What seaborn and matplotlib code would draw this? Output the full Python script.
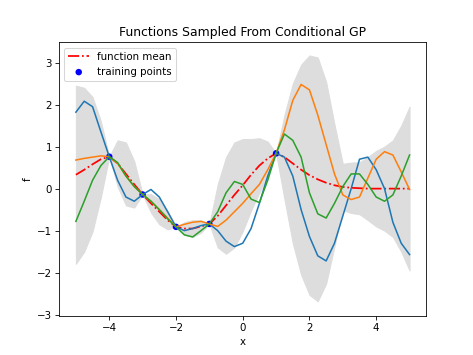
import numpy as np
import matplotlib
matplotlib.use("Agg")
import matplotlib.pyplot as plt
import seaborn as sns

# test grid
x_test = np.arange(-5, 5.01, 0.25)

# training points
x_train = [-4, -3, -2, -1, 1]
y_train = [0.76, -0.14, -0.91, -0.84, 0.84]

# posterior mean
mean = [0.33, 0.45, 0.58, 0.70, 0.76, 0.60, 0.35, 0.10, -0.14, -0.35,
        -0.55, -0.75, -0.91, -0.95, -0.95, -0.90, -0.84, -0.65, -0.40, -0.15,
        0.08, 0.33, 0.55, 0.72, 0.84, 0.75, 0.60, 0.45, 0.32, 0.22,
        0.14, 0.08, 0.04, 0.02, 0.01, 0.0, 0.0, 0.0, 0.0, 0.0, 0.0]

# half width of the shaded band (2 std)
band = [2.12, 1.95, 1.60, 0.90, 0.0, 0.55, 0.75, 0.55, 0.0, 0.22,
        0.30, 0.22, 0.0, 0.15, 0.20, 0.15, 0.0, 0.75, 1.15, 1.25,
        1.10, 0.85, 0.65, 0.40, 0.0, 1.00, 1.90, 2.50, 2.85, 2.90,
        2.40, 1.45, 0.55, 0.60, 0.62, 0.75, 0.90, 1.00, 1.15, 1.50, 1.95]

# three posterior samples
sample_1 = [1.82, 2.08, 1.95, 1.35, 0.76, 0.20, -0.20, -0.30, -0.14, -0.02,
            -0.20, -0.55, -0.91, -1.00, -0.95, -0.88, -0.84, -1.00, -1.25, -1.38,
            -1.30, -0.95, -0.35, 0.30, 0.84, 0.75, 0.30, -0.50, -1.14, -1.60,
            -1.72, -1.30, -0.65, 0.00, 0.70, 0.75, 0.45, 0.00, -0.80, -1.30, -1.57]
sample_2 = [0.68, 0.72, 0.75, 0.78, 0.76, 0.60, 0.30, 0.05, -0.14, -0.30,
            -0.50, -0.70, -0.91, -0.85, -0.80, -0.78, -0.84, -0.90, -0.75, -0.55,
            -0.35, -0.12, 0.10, 0.45, 0.84, 1.40, 2.10, 2.48, 2.35, 1.75,
            1.05, 0.35, -0.15, -0.26, -0.20, 0.25, 0.70, 0.88, 0.80, 0.40, -0.02]
sample_3 = [-0.78, -0.30, 0.20, 0.55, 0.76, 0.62, 0.30, 0.05, -0.14, -0.30,
            -0.50, -0.72, -0.91, -1.10, -1.15, -1.00, -0.84, -0.55, -0.10, 0.17,
            0.10, -0.25, -0.33, 0.20, 0.84, 1.30, 1.15, 0.75, -0.10, -0.60,
            -0.70, -0.35, 0.05, 0.35, 0.35, 0.10, -0.20, -0.30, -0.15, 0.30, 0.80]

mean = np.array(mean)
band = np.array(band)

fig, ax = plt.subplots(figsize=(6.4, 4.8), dpi=74)

sns.lineplot(x=x_test, y=mean, color="r", linestyle="-.", linewidth=1.7,
             label="function mean", ax=ax)
sns.scatterplot(x=x_train, y=y_train, color="b", s=40, edgecolor="none",
                label="training points", ax=ax, zorder=2)
ax.fill_between(x_test, mean - band, mean + band, color="#dddddd")
for s, c in zip([sample_1, sample_2, sample_3], ["C0", "C1", "C2"]):
    sns.lineplot(x=x_test, y=s, color=c, linewidth=1.5, ax=ax)

ax.set_xlim(-5.5, 5.5)
ax.set_ylim(-3.03, 3.48)
ax.set_title("Functions Sampled From Conditional GP")
ax.set_xlabel("x")
ax.set_ylabel("f")
ax.legend(loc="upper left")

plt.savefig("out.png", dpi=74)
